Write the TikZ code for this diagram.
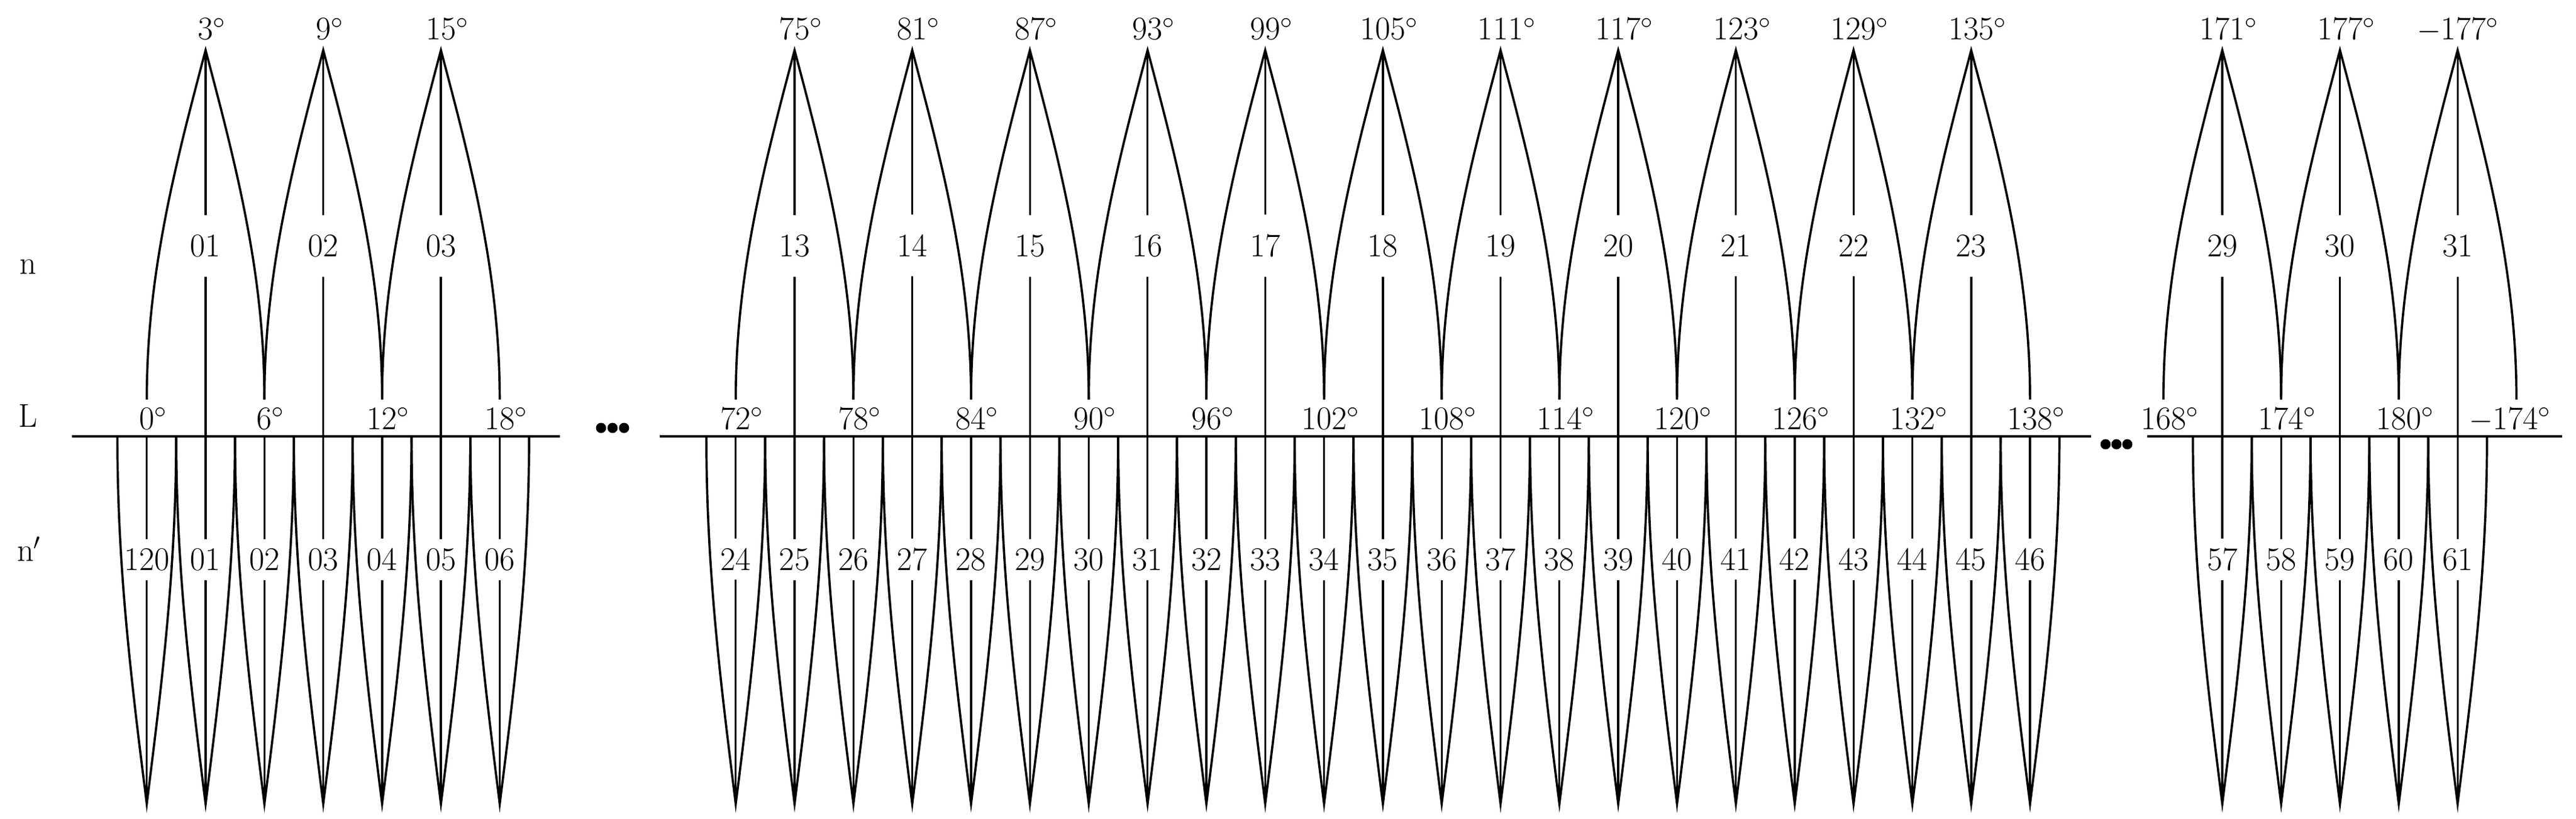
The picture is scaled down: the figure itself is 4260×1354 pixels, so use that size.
\documentclass[tikz,border=0pt]{standalone}
\usetikzlibrary{positioning}
\newcommand{\labfont}{\fontsize{15.5}{19}\selectfont}
\newcommand{\two}[1]{\ifnum#1<10 0\fi#1}
\newcommand{\lonlab}[1]{\ifnum#1>180 $-$\number\numexpr360-#1\relax\else#1\fi\rlap{$^{\circ}$}}

\begin{document}
\begin{tikzpicture}[
        x=0.01cm, y=-0.01cm,
        lens/.style={line width=1.05pt},
        merid/.style={line width=0.95pt},
        axisline/.style={line width=1.15pt},
        lab/.style={font=\labfont, inner sep=0pt, anchor=base},
        znum/.style={lab, inner ysep=0.32cm},
        dnum/.style={lab, inner ysep=0.15cm},
    ]
    \useasboundingbox (0,0) rectangle (4260,1354);

    % row labels on the left
    \node[lab] (nrow) at (46,453) {n};
    \node[lab] (Lrow) at (46,706) {L};
    \node[lab] (nprow) at (42,928) {n\rlap{$'$}};

    % three pieces: offset / 6-degree range / 3-degree range / equator ends
    \foreach \xo/\ulo/\uhi/\llo/\lhi/\axa/\axb in {242.7/3/15/0/18/119/926,
            -1118.25/75/135/72/138/1091/3458,
            -1870.5/171/183/171/183/3551/4237}{
        \pgfmathtruncatemacro\unext{\ulo+6}
        \pgfmathtruncatemacro\lnext{\llo+3}
        \pgfmathtruncatemacro\cfirst{\ulo-3}
        \pgfmathtruncatemacro\cnext{\ulo+3}
        \pgfmathtruncatemacro\clast{\uhi+3}
        % equator line
        \coordinate (ax\axa) at (\axa,722);
        \coordinate (ax\axb) at (\axb,722);
        \draw[axisline] (ax\axa) -- (ax\axb);
        % 6-degree zones
        \foreach \d in {\ulo,\unext,...,\uhi}{
            \pgfmathsetmacro\cx{\xo+32.43*\d}
            \pgfmathtruncatemacro\zn{(\d+3)/6}
            \pgfmathsetmacro\sh{\d>180 ? -0.1 : 0}
            \coordinate (apex\d) at (\cx,83);
            \coordinate (foot\d) at (\cx,722);
            \draw[lens] plot[domain=-90:90, samples=61] ({\cx+97.3*sin(\x)}, {83+abs(\x)/90*578});
            \node[lab, xshift=\sh*1cm] (top\d) at (\cx,65.5) {\lonlab{\d}};
            \node[znum] (zone\d) at (\cx,424.5) {\two{\zn}};
            \draw[merid] (apex\d) -- (zone\d.north);
            \draw[merid] (zone\d.south) -- (foot\d);
        }
        % longitude labels on the equator
        \foreach \d in {\cfirst,\cnext,...,\clast}{
            \pgfmathsetmacro\cx{\xo+32.43*\d}
            \pgfmathsetmacro\sh{\d>180 ? -0.21 : 0}
            \node[lab, xshift=\sh*1cm] (cm\d) at (\cx,710) {\lonlab{\d}};
        }
        % 3-degree zones
        \foreach \d in {\llo,\lnext,...,\lhi}{
            \pgfmathsetmacro\cx{\xo+32.43*\d}
            \pgfmathtruncatemacro\dn{\d==0 ? 120 : \d/3}
            \coordinate (head\d) at (\cx,722);
            \coordinate (tip\d) at (\cx,1330);
            \draw[lens] plot[domain=-90:90, samples=61] ({\cx+48.6*sin(\x)}, {1330-abs(\x)/90*608});
            \node[dnum] (band\d) at (\cx,943.5) {\two{\dn}};
            \draw[merid] (head\d) -- (band\d.north);
            \draw[merid] (band\d.south) -- (tip\d);
        }
    }

    % gaps between the pieces
    \foreach \k in {-1,0,1}{
        \fill (1013+19*\k,708) circle (2.4pt);
        \fill (3500+18*\k,735) circle (2.4pt);
    }
\end{tikzpicture}
\end{document}
